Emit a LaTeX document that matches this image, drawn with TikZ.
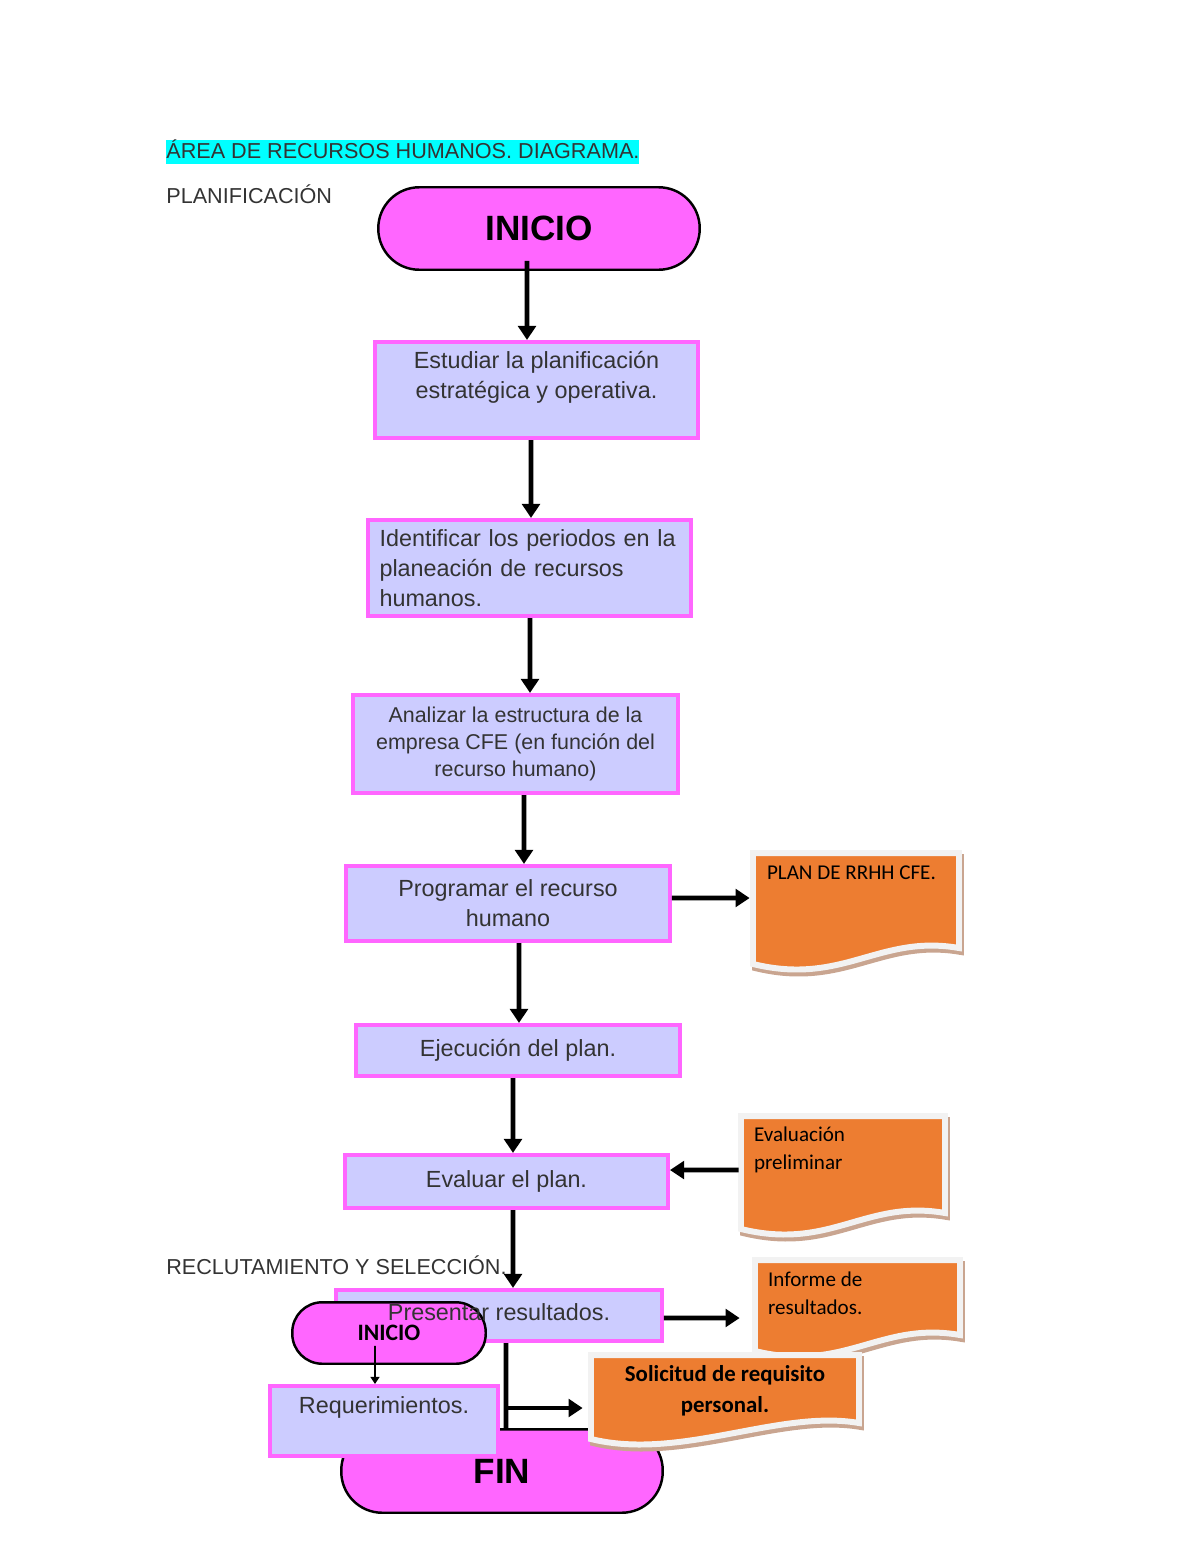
\documentclass[tikz,border=0pt]{standalone}
\usepackage{fontspec}
\setmainfont{Liberation Sans}
\newfontfamily\calibri{Carlito}
\usetikzlibrary{positioning,arrows.meta,fit}

\definecolor{rosa}{HTML}{FF66FF}
\definecolor{lila}{HTML}{CCCCFF}
\definecolor{naranja}{HTML}{ED7D31}
\definecolor{sombra}{HTML}{C9A590}
\definecolor{borde}{HTML}{F2F2F2}
\definecolor{celeste}{HTML}{00FFFF}

\tikzset{
  term/.style={draw=black, line width=1.4pt, fill=rosa, rounded corners=0.82cm,
    font=\fontsize{20}{24}\selectfont\bfseries},
  paso/.style={draw=rosa, line width=2.3pt, fill=lila, align=center, inner sep=0pt,
    text=black!80, font=\fontsize{13.3}{17}\selectfont},
  txt/.style={align=center, inner sep=0pt, text=black!80, font=\fontsize{13.3}{17}\selectfont},
  doctxt/.style={align=left, inner sep=0pt, anchor=north west, font=\calibri\fontsize{12}{15.9}\selectfont},
  seccion/.style={anchor=west, inner sep=0pt, text=black!80, font=\fontsize{12.3}{14}\selectfont},
  flecha/.style={line width=2.8pt, -{Triangle[length=8pt,width=10pt]}},
  fina/.style={line width=1.1pt, -{Triangle[length=4pt,width=5pt]}}
}

% hoja con borde ondulado: nombre, x1, y1, x2, y2
\newcommand{\hoja}[5]{%
  \filldraw[sombra, line width=3.4pt, shift={(2,4)}] (#2,#3) -- (#4,#3) -- (#4,#5-24)
    .. controls (#4-80,#5-38) and (#2+90,#5+14) .. (#2,#5-8) -- cycle;
  \filldraw[fill=naranja, draw=borde, line width=3.4pt] (#2,#3) -- (#4,#3) -- (#4,#5-24)
    .. controls (#4-80,#5-38) and (#2+90,#5+14) .. (#2,#5-8) -- cycle;
  \node[fit={(#2,#3) (#4,#5)}, inner sep=0pt] (#1) {};
}

\begin{document}
\begin{tikzpicture}[x=0.02cm,y=-0.02cm]
\useasboundingbox (0,0) rectangle (1200,1553);

% encabezados
\node[seccion, fill=celeste, text height=10pt, text depth=3pt, inner ysep=0.3pt] (titulo) at (166,152) {ÁREA DE RECURSOS HUMANOS. DIAGRAMA.};
\node[seccion] (planif) at (166,194) {PLANIFICACIÓN};
\node[seccion] (reclut) at (166,1265) {RECLUTAMIENTO Y SELECCIÓN.};

% planificacion
\node[term, minimum width=6.43cm, minimum height=1.65cm] (inicio) at (539,228.5) {INICIO};
\node[paso, minimum width=6.46cm, minimum height=1.92cm,
  label={[txt, yshift=0.26cm]center:{Estudiar la planificación\\estratégica y operativa.}}] (b1) at (536.5,390) {};
\node[paso, minimum width=6.46cm, minimum height=1.92cm, text width=6cm, align=left] (b2) at (529.5,568)
  {Identificar los periodos en la\\planeación de recursos\\humanos.};
\node[paso, minimum width=6.5cm, minimum height=1.96cm, font=\fontsize{12.2}{15.3}\selectfont] (b3) at (515.5,744)
  {Analizar la estructura de la\\empresa CFE (en función del\\recurso humano)};
\node[paso, minimum width=6.48cm, minimum height=1.5cm] (b4) at (508,903.5) {Programar el recurso\\humano};
\node[paso, minimum width=6.48cm, minimum height=1.02cm] (b5) at (518,1050.5) {Ejecución del plan.};
\node[paso, minimum width=6.46cm, minimum height=1.06cm] (b6) at (506.5,1181.5) {Evaluar el plan.};
\node[paso, minimum width=6.52cm, minimum height=1.02cm] (b7) at (499,1315.5) {};

% documentos
\hoja{d1}{753}{853}{959}{972}
\node[doctxt] (d1t) at ([xshift=0.28cm,yshift=-0.26cm]d1.north west) {PLAN DE RRHH CFE.};
\hoja{d2}{741}{1116}{945}{1237}
\node[doctxt] (d2t) at ([xshift=0.26cm,yshift=-0.22cm]d2.north west) {Evaluación\\preliminar};
\hoja{d3}{755}{1260}{960}{1359}
\node[doctxt] (d3t) at ([xshift=0.26cm,yshift=-0.24cm]d3.north west) {Informe de\\resultados.};

% flechas
\draw[flecha] ([xshift=-0.24cm,yshift=0.2cm]inicio.south) -- ([xshift=-0.19cm]b1.north);
\draw[flecha] ([xshift=-0.11cm]b1.south) -- ([xshift=0.03cm]b2.north);
\draw[flecha] ([xshift=0.01cm]b2.south) -- ([xshift=0.29cm]b3.north);
\draw[flecha] ([xshift=0.17cm]b3.south) -- ([xshift=0.32cm]b4.north);
\draw[flecha] ([yshift=0.11cm]b4.east) -- ([xshift=-0.06cm,yshift=0.29cm]d1.west);
\draw[flecha] ([xshift=0.22cm]b4.south) -- ([xshift=0.02cm]b5.north);
\draw[flecha] ([xshift=-0.1cm]b5.south) -- ([xshift=0.13cm]b6.north);
\draw[flecha] ([xshift=-0.04cm,yshift=0.13cm]d2.west) -- ([yshift=0.23cm]b6.east);
\draw[flecha] ([xshift=0.13cm]b6.south) -- ([xshift=0.28cm]b7.north);
\draw[flecha] ([yshift=-0.05cm]b7.east) -- ([xshift=-0.3cm,yshift=-0.17cm]d3.west);

% reclutamiento
\node[term, minimum width=3.87cm, minimum height=1.23cm, rounded corners=0.6cm,
  font=\calibri\fontsize{13.4}{16}\selectfont\bfseries] (ini2) at (389,1333) {INICIO};
\node[txt] (t7) at ([yshift=0.07cm]b7.center) {Presentar resultados.};
\node[term, minimum width=6.43cm, minimum height=1.67cm] (fin) at (502,1471) {FIN};
\node[paso, minimum width=4.56cm, minimum height=1.4cm,
  label={[txt, yshift=0.28cm]center:{Requerimientos.}}] (b8) at (384,1421) {};
\draw[fina] ([xshift=-0.28cm,yshift=0.38cm]ini2.south) -- ([xshift=-0.18cm]b8.north);
\draw[line width=2.8pt] ([xshift=0.14cm]b7.south) -- ([xshift=0.08cm]fin.north);
\hoja{d4}{591}{1355}{859}{1447}
\coordinate (cruce) at ([xshift=0.14cm,yshift=-1.3cm]b7.south);
\draw[flecha] (cruce) -- ([xshift=-0.16cm]d4.west |- cruce);
\node[txt, text=black, font=\calibri\fontsize{13}{17.6}\selectfont\bfseries] (d4t) at ([yshift=0.2cm]d4.center)
  {Solicitud de requisito\\personal.};
\end{tikzpicture}
\end{document}
